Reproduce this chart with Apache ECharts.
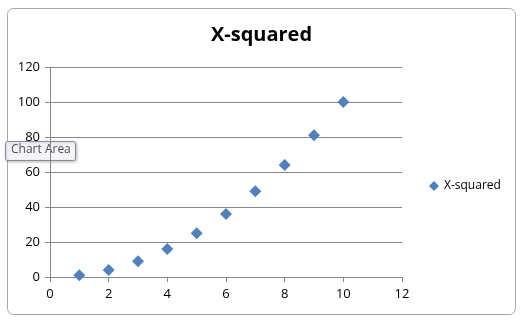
<!DOCTYPE html>
<html><head><meta charset="utf-8">
<script src="https://cdn.jsdelivr.net/npm/echarts@6/dist/echarts.min.js"></script>
<style>html,body{margin:0;padding:0;background:#fff;}#c{width:523px;height:322px;}</style>
</head><body><div id="c"></div>
<script>
var xValues = [1, 2, 3, 4, 5, 6, 7, 8, 9, 10];
var yValues = [1, 4, 9, 16, 25, 36, 49, 64, 81, 100];
var seriesName = 'X-squared';
var titleText = 'X-squared';

var pts = xValues.map(function (x, i) { return [x, yValues[i]]; });
var chart = echarts.init(document.getElementById('c'));
var font = "'Open Sans', 'DejaVu Sans', sans-serif";
chart.setOption({
  animation: false,
  title: { text: titleText, left: 'center', top: 20,
    textStyle: { fontFamily: font, fontWeight: 'bold', fontSize: 20, color: '#000' } },
  legend: { left: 424, top: 175, icon: 'diamond', itemWidth: 10, itemHeight: 10, itemGap: 4,
    textStyle: { fontFamily: font, fontSize: 12, color: '#000' }, data: [seriesName] },
  grid: { left: 50, right: 121, top: 67, bottom: 45 },
  xAxis: { type: 'value', min: 0, max: 12, interval: 2,
    axisLine: { show: true, onZero: false, lineStyle: { color: '#868686' } },
    axisTick: { show: true, length: 5, lineStyle: { color: '#868686' } },
    axisLabel: { fontFamily: font, fontSize: 13, color: '#000', margin: 11 },
    splitLine: { show: false } },
  yAxis: { type: 'value', min: 0, max: 120, interval: 20,
    axisLine: { show: true, lineStyle: { color: '#868686' } },
    axisTick: { show: true, length: 5, lineStyle: { color: '#868686' } },
    axisLabel: { fontFamily: font, fontSize: 13, color: '#000', margin: 10 },
    splitLine: { show: true, lineStyle: { color: '#868686', width: 1 } } },
  series: [{ name: seriesName, type: 'scatter', data: pts, symbol: 'diamond', symbolSize: 12,
    itemStyle: { color: '#4F81BD', opacity: 1 } }],
  graphic: [
    { type: 'rect', shape: { x: 7.5, y: 8.5, width: 508, height: 306, r: 6 }, z: -10, silent: true,
      style: { fill: 'none', stroke: '#a6a6a6', lineWidth: 1 } },
    { type: 'group', left: 5, top: 141, z: 100, children: [
      { type: 'rect', shape: { x: 0.5, y: 0.5, width: 70, height: 19, r: 2 },
        style: { fill: '#f6f6fa', stroke: '#8c8c96', lineWidth: 1, shadowBlur: 3, shadowColor: 'rgba(0,0,0,0.25)', shadowOffsetX: 1, shadowOffsetY: 1 } },
      { type: 'text', x: 6, y: 3, style: { text: 'Chart Area', fill: '#4c4c4c', font: "12px 'Open Sans', 'DejaVu Sans', sans-serif" } }
    ] }
  ]
});
</script></body></html>
